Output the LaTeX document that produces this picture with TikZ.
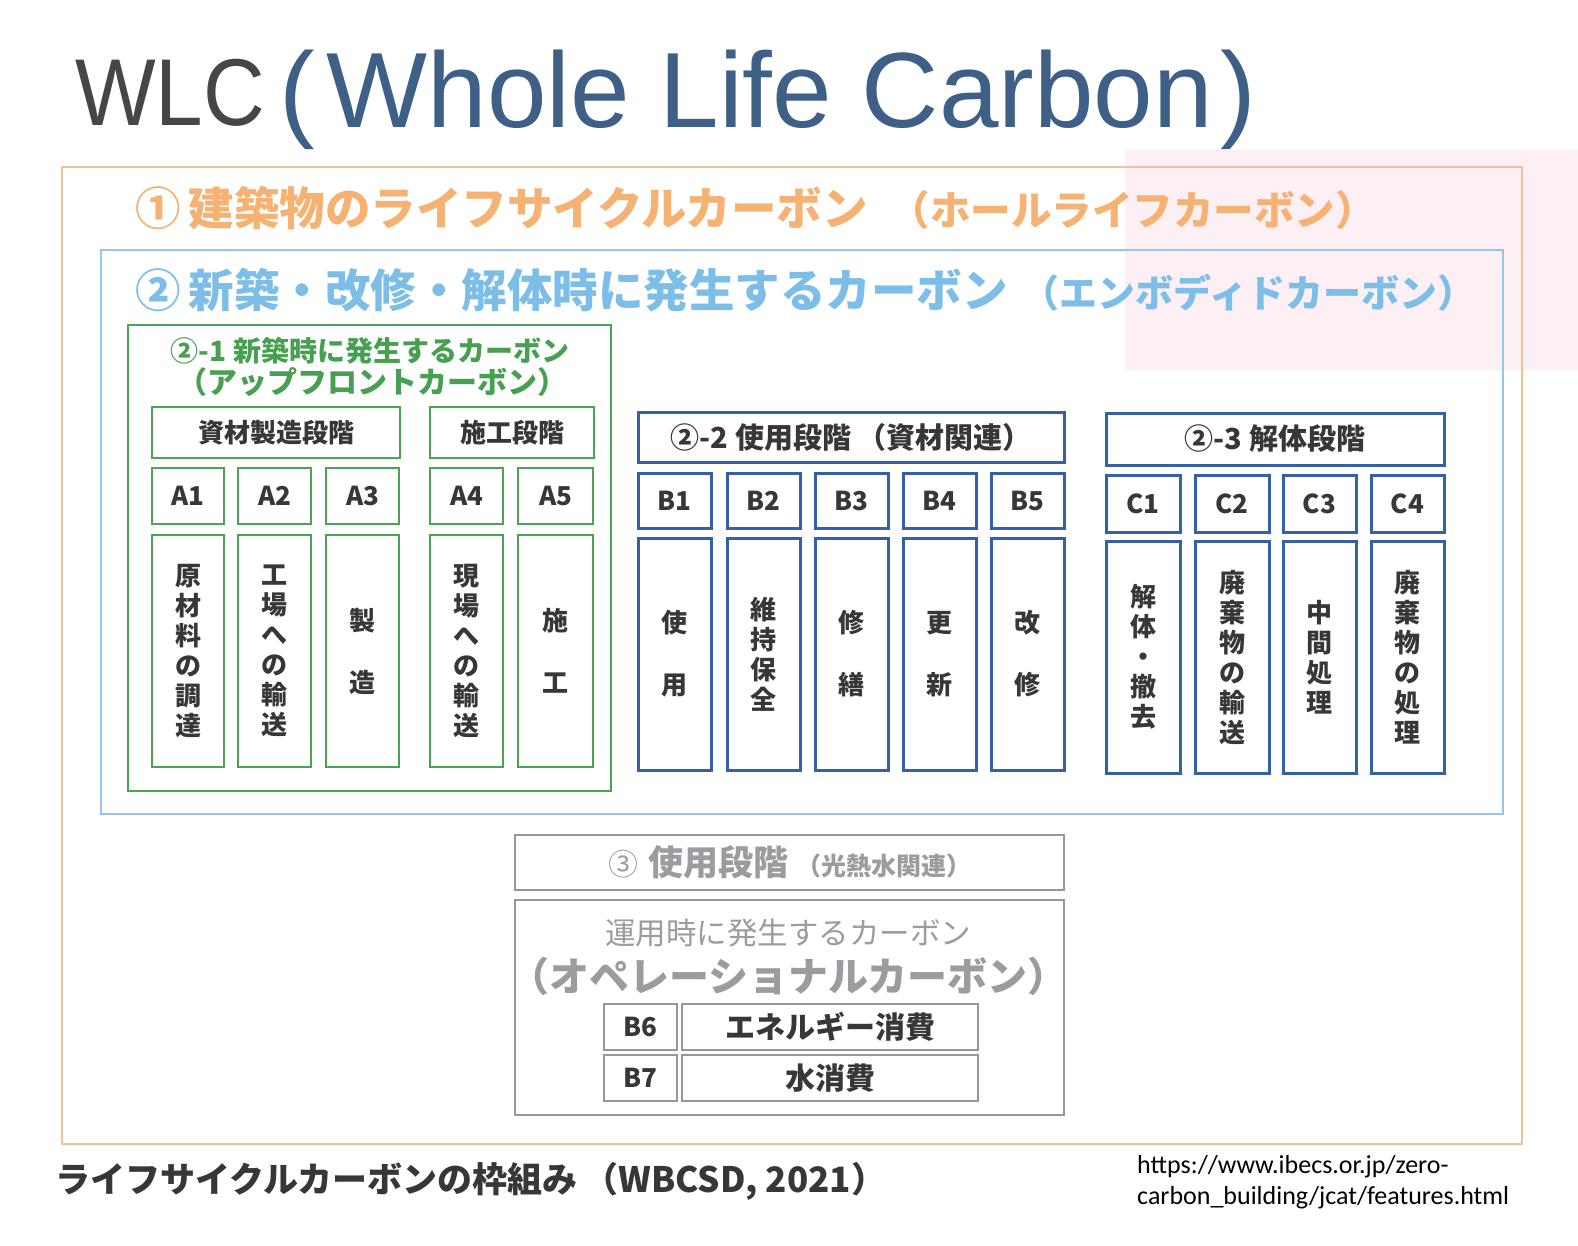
\documentclass[tikz,border=0pt]{standalone}
\usepackage{fontspec}
\setmainfont{Liberation Sans}
\newfontfamily\jp{Noto Sans CJK JP}
\newfontfamily\urlf{Carlito}
\definecolor{orB}{RGB}{240,196,150}
\definecolor{orT}{RGB}{245,178,115}
\definecolor{blB}{RGB}{150,198,235}
\definecolor{blT}{RGB}{125,190,232}
\definecolor{grB}{RGB}{78,162,88}
\definecolor{grT}{RGB}{70,160,80}
\definecolor{bdB}{RGB}{52,96,168}
\definecolor{gyB}{RGB}{150,150,155}
\definecolor{gyT}{RGB}{155,155,160}
\definecolor{txt}{RGB}{55,55,55}
\definecolor{ttl}{RGB}{62,96,134}
\definecolor{wlc}{RGB}{70,70,72}
\definecolor{pinkbg}{RGB}{252,240,245}
\newcommand\mybox[7]{\node[#6, minimum width={#4-#2}, minimum height={#5-#3}] (#1) at ({(#2+#4)/2},{(#3+#5)/2}) {#7};}
\tikzset{
  frm/.style={draw, line width=2.6pt, inner sep=0pt},
  hdr/.style={frm, text=txt, font=\jp\bfseries\fontsize{26}{30}\selectfont},
  lbl/.style={frm, text=txt, font=\jp\bfseries\fontsize{26}{30}\selectfont},
  vt/.style={frm, text=txt, align=center, font=\jp\bfseries\fontsize{26}{30}\selectfont},
  vw/.style={frm, text=txt, align=center, font=\jp\bfseries\fontsize{26}{62}\selectfont},
  dk/.style={draw=bdB, line width=3pt},
}
\begin{document}
\begin{tikzpicture}[x=1pt,y=-1pt]
\useasboundingbox[fill=white] (0,0) rectangle (1578,1245);
\fill[pinkbg] (1125,150) rectangle (1578,370);
% title
\node[anchor=base west, inner sep=0pt, text=wlc, font=\fontsize{95}{100}\selectfont, xscale=0.9] (wlc) at (75,125) {WLC};
\node[anchor=base west, inner sep=0pt, text=ttl, font=\fontsize{107}{110}\selectfont] (wlcen) at (279,127) {(\hspace{12pt}Whole Life Carbon\hspace{8pt})};
% big frames
\mybox{whole}{62}{167}{1522}{1144}{frm, draw=orB}{}
\mybox{embodied}{101}{250}{1503}{814}{frm, draw=blB}{}
\mybox{upfront}{128}{325}{611}{791}{frm, draw=grB}{}
\node[anchor=west, inner sep=0pt, text=orT, font=\jp\bfseries\fontsize{45.5}{50}\selectfont] (t1) at (135,208) {①\hspace{8pt}建築物のライフサイクルカーボン\hspace{22pt}{\fontsize{40.5}{41}\selectfont（ホールライフカーボン）}};
\node[anchor=west, inner sep=0pt, text=blT, font=\jp\bfseries\fontsize{45.5}{50}\selectfont] (t2) at (135,290) {②\hspace{8pt}新築・改修・解体時に発生するカーボン\hspace{14pt}{\fontsize{38}{38}\selectfont（エンボディドカーボン）}};
\node[inner sep=0pt, text=grT, font=\jp\bfseries\fontsize{28}{30}\selectfont] (t21) at (370,351) {②-1 新築時に発生するカーボン};
\node[inner sep=0pt, text=grT, font=\jp\bfseries\fontsize{30}{30}\selectfont] (t21b) at (372,382) {（アップフロントカーボン）};
% A group
\mybox{hA}{152}{407}{400}{458}{hdr, draw=grB}{資材製造段階}
\mybox{hA2}{430}{407}{594}{458}{hdr, draw=grB}{施工段階}
\mybox{A1}{152}{468}{224}{524}{lbl, draw=grB}{A1}
\mybox{A2}{238}{468}{311}{524}{lbl, draw=grB}{A2}
\mybox{A3}{326}{468}{399}{524}{lbl, draw=grB}{A3}
\mybox{A4}{430}{468}{503}{524}{lbl, draw=grB}{A4}
\mybox{A5}{518}{468}{593}{524}{lbl, draw=grB}{A5}
\mybox{a1}{152}{535}{224}{767}{vt, draw=grB}{原\\材\\料\\の\\調\\達}
\mybox{a2}{238}{535}{311}{767}{vt, draw=grB}{工\\場\\へ\\の\\輸\\送}
\mybox{a3}{326}{535}{399}{767}{vw, draw=grB}{製\\造}
\mybox{a4}{430}{535}{503}{767}{vt, draw=grB}{現\\場\\へ\\の\\輸\\送}
\mybox{a5}{518}{535}{593}{767}{vw, draw=grB}{施\\工}
% B group
\mybox{hB}{638}{412}{1064}{462}{hdr, dk, font=\jp\bfseries\fontsize{29}{30}\selectfont}{②-2 使用段階\hspace{6pt}（資材関連）}
\mybox{B1}{638}{473}{711}{528}{lbl, dk}{B1}
\mybox{B2}{727}{473}{800}{528}{lbl, dk}{B2}
\mybox{B3}{815}{473}{888}{528}{lbl, dk}{B3}
\mybox{B4}{903}{473}{976}{528}{lbl, dk}{B4}
\mybox{B5}{991}{473}{1064}{528}{lbl, dk}{B5}
\mybox{b1}{638}{538}{711}{770}{vw, dk}{使\\用}
\mybox{b2}{727}{538}{800}{770}{vt, dk}{維\\持\\保\\全}
\mybox{b3}{815}{538}{888}{770}{vw, dk}{修\\繕}
\mybox{b4}{903}{538}{976}{770}{vw, dk}{更\\新}
\mybox{b5}{991}{538}{1064}{770}{vw, dk}{改\\修}
% C group
\mybox{hC}{1106}{413}{1444}{465}{hdr, dk, font=\jp\bfseries\fontsize{29}{30}\selectfont}{②-3 解体段階}
\mybox{C1}{1106}{475}{1180}{532}{lbl, dk}{C1}
\mybox{C2}{1195}{475}{1269}{532}{lbl, dk}{C2}
\mybox{C3}{1283}{475}{1356}{532}{lbl, dk}{C3}
\mybox{C4}{1371}{475}{1444}{532}{lbl, dk}{C4}
\mybox{c1}{1106}{541}{1180}{773}{vt, dk}{解\\体\\・\\撤\\去}
\mybox{c2}{1195}{541}{1269}{773}{vt, dk}{廃\\棄\\物\\の\\輸\\送}
\mybox{c3}{1283}{541}{1356}{773}{vt, dk}{中\\間\\処\\理}
\mybox{c4}{1371}{541}{1444}{773}{vt, dk}{廃\\棄\\物\\の\\処\\理}
% operational
\mybox{h3}{515}{835}{1064}{890}{frm, draw=gyB, text=gyT, font=\jp\bfseries\fontsize{35}{36}\selectfont}{{\mdseries\fontsize{30}{30}\selectfont ③}\hspace{10pt}使用段階\hspace{8pt}{\fontsize{25}{25}\selectfont（光熱水関連）}}
\mybox{op}{515}{900}{1064}{1115}{frm, draw=gyB}{}
\node[inner sep=0pt, text=gyT, font=\jp\fontsize{30.5}{31}\selectfont] (opt1) at (788,933) {運用時に発生するカーボン};
\node[inner sep=0pt, text=gyT, font=\jp\bfseries\fontsize{40}{40}\selectfont] (opt2) at (788,976) {（オペレーショナルカーボン）};
\mybox{B6}{604}{1004}{677}{1050}{lbl, draw=gyB}{B6}
\mybox{b6}{682}{1004}{978}{1050}{lbl, draw=gyB, font=\jp\bfseries\fontsize{30}{30}\selectfont}{エネルギー消費}
\mybox{B7}{604}{1055}{677}{1101}{lbl, draw=gyB}{B7}
\mybox{b7}{682}{1055}{978}{1101}{lbl, draw=gyB, font=\jp\bfseries\fontsize{30}{30}\selectfont}{水消費}
% caption
\node[anchor=west, inner sep=0pt, text=txt, font=\jp\bfseries\fontsize{35}{36}\selectfont] (cap) at (55,1181) {ライフサイクルカーボンの枠組み\hspace{6pt}（WBCSD, 2021）};
\node[anchor=north west, inner sep=0pt, align=left, text=black, font=\urlf\fontsize{26}{31}\selectfont] (url) at (1137,1155) {https://www.ibecs.or.jp/zero-\\carbon\_building/jcat/features.html};
\end{tikzpicture}
\end{document}
